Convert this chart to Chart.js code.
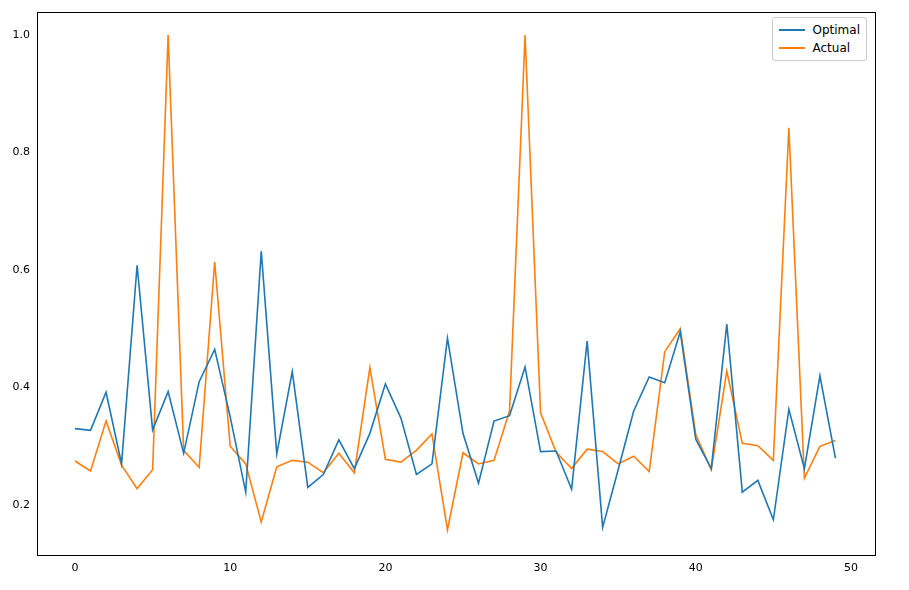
<!DOCTYPE html>
<html><head><meta charset="utf-8">
<script src="https://cdn.jsdelivr.net/npm/chart.js@4"></script>
<style>body{margin:0;background:#fff}#w{position:relative;width:909px;height:590px}
#lg{position:absolute;right:42px;top:17px;border:1px solid #ccc;border-radius:3px;background:#fff;padding:3px 6px;font:12px "DejaVu Sans";color:#000}
#lg div{display:flex;align-items:center;height:18px}#lg span{display:inline-block;width:26px;height:2px;margin-right:8px}</style>
</head><body><div id="w"><canvas id="c" width="909" height="590"></canvas>
<div id="lg"><div><span style="background:#1f77b4"></span>Optimal</div><div><span style="background:#ff7f0e"></span>Actual</div></div></div>
<script>
const optimal=[0.33,0.327,0.392,0.27,0.608,0.328,0.393,0.288,0.41,0.465,0.35,0.222,0.632,0.287,0.427,0.23,0.252,0.311,0.262,0.322,0.406,0.348,0.252,0.27,0.484,0.322,0.237,0.343,0.352,0.435,0.291,0.292,0.227,0.479,0.162,0.26,0.36,0.418,0.408,0.495,0.312,0.262,0.508,0.222,0.242,0.175,0.363,0.262,0.42,0.28];
const actual=[0.275,0.258,0.343,0.268,0.228,0.26,1.0,0.293,0.264,0.614,0.3,0.27,0.171,0.265,0.276,0.273,0.255,0.288,0.255,0.434,0.278,0.273,0.293,0.321,0.158,0.289,0.27,0.276,0.36,1.0,0.357,0.29,0.262,0.295,0.291,0.27,0.283,0.257,0.461,0.5,0.32,0.26,0.428,0.305,0.301,0.276,0.842,0.246,0.3,0.31];
const pts=a=>a.map((v,i)=>({x:i,y:v}));
const border={id:'b',afterDraw(c){const a=c.chartArea,x=c.ctx;x.save();x.strokeStyle='#000';x.lineWidth=1;x.strokeRect(a.left+.5,a.top+.5,a.right-a.left,a.bottom-a.top);x.restore();}};
Chart.defaults.font.family='DejaVu Sans';Chart.defaults.font.size=11;Chart.defaults.color='#000';
new Chart(document.getElementById('c'),{type:'line',
data:{datasets:[{label:'Optimal',data:pts(optimal),borderColor:'#1f77b4',borderWidth:1.6,pointRadius:0,tension:0},
{label:'Actual',data:pts(actual),borderColor:'#ff7f0e',borderWidth:1.6,pointRadius:0,tension:0}]},
options:{responsive:false,animation:false,layout:{padding:{top:12,right:34,left:0,bottom:0}},
plugins:{legend:{display:false},tooltip:{enabled:false}},
scales:{x:{type:'linear',min:-2.45,max:51.55,grid:{display:false,drawTicks:true,tickLength:4,tickColor:'#000'},border:{display:false},
ticks:{stepSize:10,autoSkip:false,callback:v=>v%10===0?v:null},afterBuildTicks(s){s.ticks=[0,10,20,30,40,50].map(v=>({value:v}));},afterFit(s){s.height=35;}},
y:{min:0.115,max:1.039,grid:{display:false,tickLength:4,tickColor:'#000'},border:{display:false},
afterBuildTicks(s){s.ticks=[0.2,0.4,0.6,0.8,1.0].map(v=>({value:v}));},ticks:{callback:v=>v.toFixed(1)},afterFit(s){s.width=37;}}}},
plugins:[border]});
</script></body></html>
